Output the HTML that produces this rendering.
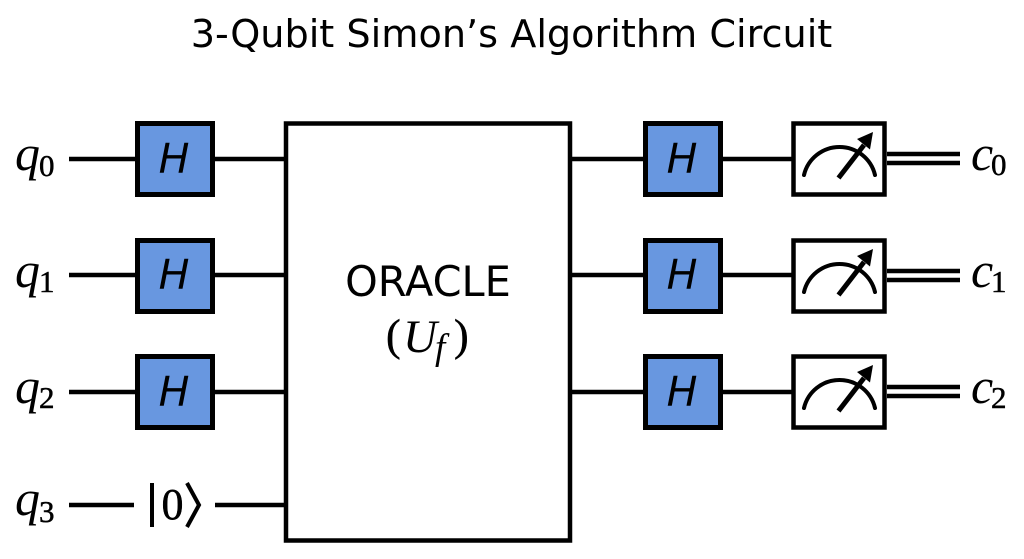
<!DOCTYPE html>
<html><head><meta charset="utf-8"><style>html,body{margin:0;padding:0;background:#fff;width:1024px;height:559px;overflow:hidden}svg{display:block}
.t{font-family:"DejaVu Sans",sans-serif;fill:#000}
.m{font-family:"Liberation Serif","DejaVu Serif",serif;font-style:italic;fill:#000}
.n{font-family:"Liberation Serif","DejaVu Serif",serif;fill:#000;stroke:#000;stroke-width:.5px}
.h{font-family:"DejaVu Sans",sans-serif;font-style:italic;font-size:41px;fill:#000;text-anchor:middle}
</style></head><body>
<svg width="1024" height="559" viewBox="0 0 1024 559" xmlns="http://www.w3.org/2000/svg">
<defs>
<g id="meter">
<rect x="793.500" y="123.500" width="91" height="71" fill="#fff" stroke="#000" stroke-width="4.500"/>
<path d="M804 175 A36.500 36.500 0 0 1 875 175" fill="none" stroke="#000" stroke-width="4" stroke-linecap="round"/>
<path d="M838.500 178 L864 145" stroke="#000" stroke-width="5" fill="none"/>
<path d="M873 132 L857 139 L870 149.500 Z" fill="#000"/>
<path d="M887 154 H960 M887 163 H960" stroke="#000" stroke-width="4.500" fill="none"/>
</g>
</defs>
<text x="511.500" y="47" class="t" font-size="38.200" text-anchor="middle">3-Qubit Simon’s Algorithm Circuit</text>
<path d="M69 159H284M69 275H284M69 392H284M69 505H134M215 505H284M572 159H792M572 275H792M572 392H792" stroke="#000" stroke-width="4.500" fill="none"/>
<rect x="286" y="123.500" width="284" height="417" fill="#fff" stroke="#000" stroke-width="4.500"/>
<g fill="#6897e0" stroke="#000" stroke-width="5">
<rect x="137.500" y="123.500" width="75" height="71"/><rect x="137.500" y="240.500" width="75" height="71"/><rect x="137.500" y="356.500" width="75" height="71"/>
<rect x="645.500" y="123.500" width="75" height="71"/><rect x="645.500" y="240.500" width="75" height="71"/><rect x="645.500" y="356.500" width="75" height="71"/>
</g>
<text x="174" y="173" class="h">H</text><text x="174" y="289" class="h">H</text><text x="174" y="406" class="h">H</text>
<text x="682" y="173" class="h">H</text><text x="682" y="289" class="h">H</text><text x="682" y="406" class="h">H</text>
<use href="#meter"/><use href="#meter" y="117"/><use href="#meter" y="233"/>
<g font-size="50">
<text x="15" y="170" class="m">q</text><text x="15" y="287" class="m">q</text><text x="15" y="403" class="m">q</text><text x="15" y="515" class="m">q</text>
<text x="971" y="170" class="m">c</text><text x="971" y="287" class="m">c</text><text x="971" y="403" class="m">c</text>
</g>
<g font-size="31">
<text x="39" y="176" class="n">0</text><text x="39" y="292" class="n">1</text><text x="39" y="408" class="n">2</text><text x="39" y="522" class="n">3</text>
<text x="991" y="175" class="n">0</text><text x="991" y="292" class="n">1</text><text x="991" y="408" class="n">2</text>
</g>
<path d="M152 483V527M187 483L199 505L187 527" stroke="#000" stroke-width="4" fill="none"/>
<text x="172.500" y="519" class="n" font-size="44" text-anchor="middle">0</text>
<text x="428" y="296" class="t" font-size="41.500" text-anchor="middle">ORACLE</text>
<text x="386" y="350" class="n" font-size="44">(</text>
<text x="403" y="352" class="m" font-size="47">U</text>
<text x="435" y="359" class="m" font-size="37">f</text>
<text x="454" y="350" class="n" font-size="44">)</text>
</svg>
</body></html>
